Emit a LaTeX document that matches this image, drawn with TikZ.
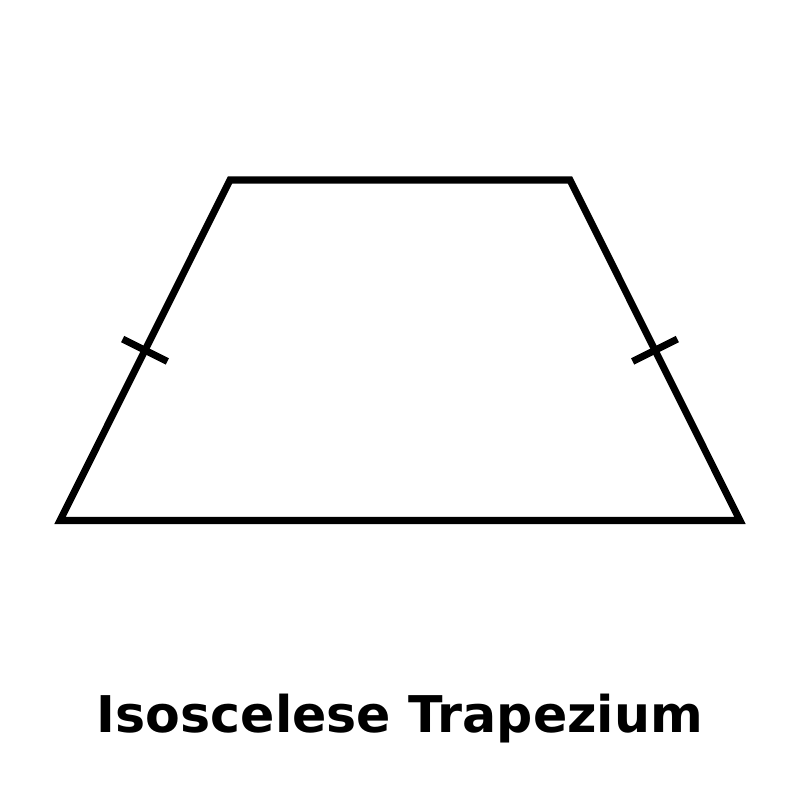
\documentclass[tikz,border=0pt]{standalone}
\usepackage{fontspec}
\setmainfont{DejaVu Sans}
\usetikzlibrary{calc}
\tikzset{
    lado/.style={line width=2pt, line join=miter},
    marca/.style={line width=2pt}
}
\begin{document}
\begin{tikzpicture}
    \useasboundingbox (0,0) rectangle (8,8);

    % Vertices
    \coordinate (A) at (0.6,2.795);
    \coordinate (B) at (7.4,2.795);
    \coordinate (C) at (5.7,6.2);
    \coordinate (D) at (2.3,6.2);

    % Lados
    \draw[lado] (A) -- (B) -- (C) -- (D) -- cycle;

    % Marcas de lados iguales
    \coordinate (mi) at ($(A)!0.5!(D)$);
    \coordinate (md) at ($(B)!0.5!(C)$);
    \draw[marca] ($(mi)!0.25cm!90:(D)$) -- ($(mi)!0.25cm!-90:(D)$);
    \draw[marca] ($(md)!0.25cm!90:(C)$) -- ($(md)!0.25cm!-90:(C)$);

    % Titulo
    \node[font=\bfseries\fontsize{14.4}{17}\selectfont] (titulo) at (4,0.81) {Isoscelese Trapezium};
\end{tikzpicture}
\end{document}
